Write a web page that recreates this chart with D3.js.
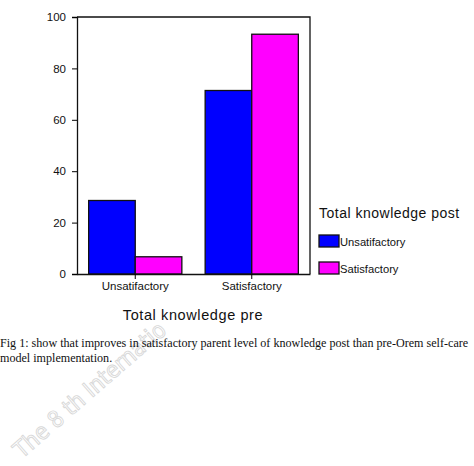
<!DOCTYPE html>
<html>
<head>
<meta charset="utf-8">
<script src="https://cdn.jsdelivr.net/npm/d3@7"></script>
<style>
  body { margin: 0; background: #fff; }
  svg { display: block; }
</style>
</head>
<body>
<div id="chart"></div>
<script>
// Data
const preCategories = ["Unsatifactory", "Satisfactory"];
const postSeries = ["Unsatifactory", "Satisfactory"];
const postUnsatisfactory = [28.6, 71.4];
const postSatisfactory = [6.7, 93.3];
const yTicks = [0, 20, 40, 60, 80, 100];
const seriesColors = ["#0000ff", "#ff00ff"];

const width = 474, height = 466;
const margin = { top: 17, right: 164, bottom: 192, left: 77 };

let svg = d3.select("#chart").append("svg")
    .attr("width", width)
    .attr("height", height);

// Faint diagonal watermark behind everything
svg.append("text")
    .attr("transform", "translate(22,459) rotate(-41)")
    .attr("font-family", "DejaVu Sans Condensed, Liberation Sans Narrow, sans-serif")
    .attr("font-stretch", "condensed")
    .attr("font-size", 23)
    .attr("fill", "none")
    .attr("stroke", "#d8d8d8")
    .attr("stroke-width", 0.9)
    .text("The 8 th Internatio");

var x0 = d3.scaleBand()
    .domain(preCategories)
    .range([margin.left, width - margin.right])
    .paddingInner(0.2)
    .paddingOuter(0.1);

var x1 = d3.scaleBand()
    .domain(postSeries)
    .range([0, x0.bandwidth()]);

var y = d3.scaleLinear()
    .domain([0, 100])
    .range([height - margin.bottom, margin.top]);

let rows = preCategories.map((c, i) => ({
    cat: c,
    vals: [postUnsatisfactory[i], postSatisfactory[i]]
}));

// Bars
let groups = svg.append("g").selectAll("g")
    .data(rows)
    .join("g")
    .attr("transform", d => "translate(" + x0(d.cat) + ",0)");

groups.selectAll("rect")
    .data(d => d.vals.map((v, j) => ({ key: postSeries[j], v: v, j: j })))
    .join("rect")
    .attr("x", d => x1(d.key))
    .attr("y", d => y(d.v))
    .attr("width", x1.bandwidth())
    .attr("height", d => y(0) - y(d.v))
    .attr("fill", d => seriesColors[d.j])
    .attr("stroke", "#111")
    .attr("stroke-width", 1.3);

// Frame round the plot (top and right edges)
svg.append("path")
    .attr("d", d3.line()([
        [margin.left, margin.top],
        [width - margin.right, margin.top],
        [width - margin.right, height - margin.bottom]
    ]))
    .attr("fill", "none")
    .attr("stroke", "#111")
    .attr("stroke-width", 1.3);

// Y axis
const yAxis = svg.append("g")
    .attr("transform", "translate(" + margin.left + ",0)")
    .call(d3.axisLeft(y).tickValues(yTicks).tickSize(5).tickPadding(6));
yAxis.select(".domain").attr("stroke", "#111").attr("stroke-width", 1.3);
yAxis.selectAll("text")
    .attr("font-family", "Liberation Sans, Arial, sans-serif")
    .attr("font-size", 11.5)
    .attr("fill", "#111");

// X axis
const xAxis = svg.append("g")
    .attr("transform", "translate(0," + (height - margin.bottom) + ")")
    .call(d3.axisBottom(x0).tickSize(5).tickPadding(3).tickSizeOuter(0));
xAxis.select(".domain").attr("stroke", "#111").attr("stroke-width", 1.3);
xAxis.selectAll("text")
    .attr("font-family", "Liberation Sans, Arial, sans-serif")
    .attr("font-size", 11.5)
    .attr("fill", "#111");

// X axis title
svg.append("text")
    .attr("x", 193)
    .attr("y", 320)
    .attr("text-anchor", "middle")
    .attr("font-family", "Liberation Sans, Arial, sans-serif")
    .attr("font-size", 14.5)
    .attr("letter-spacing", 0.6)
    .attr("fill", "#111")
    .text("Total knowledge pre");

// Legend
let legend = svg.append("g").attr("transform", "translate(319,0)");
legend.append("text")
    .attr("x", 0)
    .attr("y", 218)
    .attr("font-family", "Liberation Sans, Arial, sans-serif")
    .attr("font-size", 14)
    .attr("letter-spacing", 0.5)
    .attr("fill", "#111")
    .text("Total knowledge post");

let legItems = legend.selectAll("g.item")
    .data(postSeries)
    .join("g")
    .attr("class", "item")
    .attr("transform", (d, i) => "translate(0," + (235 + i * 27) + ")");
legItems.append("rect")
    .attr("width", 20)
    .attr("height", 12)
    .attr("fill", (d, i) => seriesColors[i])
    .attr("stroke", "#111")
    .attr("stroke-width", 1.3);
legItems.append("text")
    .attr("x", 21)
    .attr("y", 11)
    .attr("font-family", "Liberation Sans, Arial, sans-serif")
    .attr("font-size", 11.2)
    .attr("fill", "#111")
    .text(d => d);

// Caption under the chart
const caption = [
    "Fig 1: show that improves in satisfactory parent level of knowledge post than pre-Orem self-care",
    "model implementation."
];
svg.append("g").selectAll("text")
    .data(caption)
    .join("text")
    .attr("x", 0)
    .attr("y", (d, i) => 347 + i * 15)
    .attr("font-family", "Liberation Serif, Times New Roman, serif")
    .attr("font-size", 12.1)
    .attr("fill", "#111")
    .text(d => d);
</script>
</body>
</html>
